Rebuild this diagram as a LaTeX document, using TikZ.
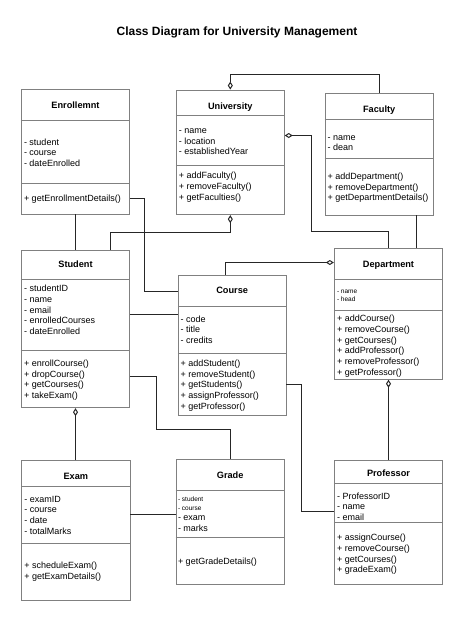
\documentclass[tikz,border=0pt]{standalone}
\usepackage{fontspec}
\setmainfont{Liberation Sans}
\usetikzlibrary{fit,arrows.meta}

\definecolor{boxline}{HTML}{808080}

\tikzset{
  classbox/.style={draw=boxline, line width=0.9pt, inner sep=0pt},
  divider/.style={draw=boxline, line width=0.9pt},
  classname/.style={font=\fontsize{9.2}{11}\selectfont\bfseries, inner sep=0pt, text height=6.6pt, text depth=0pt},
  member/.style={font=\fontsize{9}{11}\selectfont, anchor=west, inner sep=0pt, text height=6.4pt, text depth=0pt},
  tinymember/.style={member, font=\fontsize{6.5}{8}\selectfont, text height=4.6pt},
  link/.style={line width=1pt, draw=black!85},
  agg/.style={link, -{Diamond[open, length=8pt, width=5pt]}}
}

% one text line per member, 10.65pt apart
\newcommand{\members}[4]{%
  \foreach \m [count=\i from 0] in {#4}
    \node[member] (#1\i) at (#2, #3+10.65*\i) {\m};}

\begin{document}
\begin{tikzpicture}[x=1pt, y=-1pt]
  \fill[white] (0,0) rectangle (474,622);
  \useasboundingbox (0,0) rectangle (474,622);

  \node[font=\fontsize{12}{14}\selectfont\bfseries, inner sep=0pt, text height=8.6pt, text depth=0pt] (title) at (237,30.7) {Class Diagram for University Management};

  % Enrollemnt
  \node[classbox, fit={(21.3,89.3) (129.7,214)}] (enroll) {};
  \draw[divider] (enroll.west |- 0,120.7) -- (enroll.east |- 0,120.7);
  \draw[divider] (enroll.west |- 0,183) -- (enroll.east |- 0,183);
  \node[classname] (enroll-name) at (enroll.center |- 0,105) {Enrollemnt};
  \members{enroll-a}{23.8}{142}{- student, - course, - dateEnrolled}
  \members{enroll-m}{23.8}{198.3}{+ getEnrollmentDetails()}

  % University
  \node[classbox, fit={(176.3,90) (284.3,214.7)}] (univ) {};
  \draw[divider] (univ.west |- 0,115.7) -- (univ.east |- 0,115.7);
  \draw[divider] (univ.west |- 0,165.3) -- (univ.east |- 0,165.3);
  \node[classname] (univ-name) at (univ.center |- 0,105.7) {University};
  \members{univ-a}{178.6}{130.3}{- name, - location, - establishedYear}
  \members{univ-m}{178.6}{175.7}{+ addFaculty(), + removeFaculty(), + getFaculties()}

  % Faculty
  \node[classbox, fit={(325,93.3) (433.3,215)}] (fac) {};
  \draw[divider] (fac.west |- 0,119.3) -- (fac.east |- 0,119.3);
  \draw[divider] (fac.west |- 0,158.3) -- (fac.east |- 0,158.3);
  \node[classname] (fac-name) at (fac.center |- 0,109) {Faculty};
  \members{fac-a}{327.4}{137}{- name, - dean}
  \members{fac-m}{327.4}{176.3}{+ addDepartment(), + removeDepartment(), + getDepartmentDetails()}

  % Student
  \node[classbox, fit={(21.3,250) (129.7,407.7)}] (stud) {};
  \draw[divider] (stud.west |- 0,279.3) -- (stud.east |- 0,279.3);
  \draw[divider] (stud.west |- 0,350) -- (stud.east |- 0,350);
  \node[classname] (stud-name) at (stud.center |- 0,264.3) {Student};
  \members{stud-a}{24}{288.7}{- studentID, - name, - email, - enrolledCourses, - dateEnrolled}
  \members{stud-m}{24}{363.3}{+ enrollCourse(), + dropCourse(), + getCourses(), + takeExam()}

  % Course
  \node[classbox, fit={(178.3,275) (286,415.3)}] (course) {};
  \draw[divider] (course.west |- 0,306.3) -- (course.east |- 0,306.3);
  \draw[divider] (course.west |- 0,353) -- (course.east |- 0,353);
  \node[classname] (course-name) at (course.center |- 0,290.3) {Course};
  \members{course-a}{180.5}{319}{- code, - title, - credits}
  \members{course-m}{180.5}{363.3}{+ addStudent(), + removeStudent(), + getStudents(), + assignProfessor(), + getProfessor()}

  % Department
  \node[classbox, fit={(334.3,248.3) (442.7,379.3)}] (dept) {};
  \draw[divider] (dept.west |- 0,279.3) -- (dept.east |- 0,279.3);
  \draw[divider] (dept.west |- 0,310) -- (dept.east |- 0,310);
  \node[classname] (dept-name) at (dept.center |- 0,263.7) {Department};
  \node[tinymember] (dept-a0) at (336.8,291) {- name};
  \node[tinymember] (dept-a1) at (336.8,299.3) {- head};
  \members{dept-m}{336.8}{318.7}{+ addCourse(), + removeCourse(), + getCourses(), + addProfessor(), + removeProfessor(), + getProfessor()}

  % Exam
  \node[classbox, fit={(21.7,460.7) (130,600)}] (exam) {};
  \draw[divider] (exam.west |- 0,486.3) -- (exam.east |- 0,486.3);
  \draw[divider] (exam.west |- 0,543.3) -- (exam.east |- 0,543.3);
  \node[classname] (exam-name) at (exam.center |- 0,476) {Exam};
  \members{exam-a}{24.2}{499}{- examID, - course, - date, - totalMarks}
  \members{exam-m}{24.2}{565.7}{+ scheduleExam(), + getExamDetails()}

  % Grade
  \node[classbox, fit={(176,459.3) (284.3,584.3)}] (grade) {};
  \draw[divider] (grade.west |- 0,490) -- (grade.east |- 0,490);
  \draw[divider] (grade.west |- 0,537.3) -- (grade.east |- 0,537.3);
  \node[classname] (grade-name) at (grade.center |- 0,474.7) {Grade};
  \node[tinymember] (grade-a0) at (177.8,499) {- student};
  \node[tinymember] (grade-a1) at (177.8,507.7) {- course};
  \members{grade-a}{177.8}{517.3}{- exam, - marks}
  \members{grade-m}{177.8}{561.7}{+ getGradeDetails()}

  % Professor
  \node[classbox, fit={(334.3,460.7) (442.7,584.3)}] (prof) {};
  \draw[divider] (prof.west |- 0,483) -- (prof.east |- 0,483);
  \draw[divider] (prof.west |- 0,522.7) -- (prof.east |- 0,522.7);
  \node[classname] (prof-name) at (prof.center |- 0,472.7) {Professor};
  \members{prof-a}{337}{496}{- ProfessorID, - name, - email}
  \members{prof-m}{337}{537.7}{+ assignCourse(), + removeCourse(), + getCourses(), + gradeExam()}

  % connectors
  \draw[agg] (fac.north) -- ++(0,-18.6) -| (univ.north);
  \draw[agg] (dept.north) |- (311.5,231.5) |- (univ.east |- 0,135.5);
  \draw[link] (fac.south -| 416.5,0) -- (dept.north -| 416.5,0);
  \draw[agg] (stud.north -| 110.5,0) |- (univ.south |- 0,232.5) -- (univ.south);
  \draw[link] (enroll.south) -- (stud.north);
  \draw[link] (enroll.east |- 0,198.5) -| (144.5,291.5) -- (course.west |- 0,291.5);
  \draw[agg] (course.north -| 225.5,0) |- (dept.west |- 0,262.5);
  \draw[link] (stud.east |- 0,314.5) -- (course.west |- 0,314.5);
  \draw[link] (stud.east |- 0,376.5) -| (156.5,429.5) -| (grade.north);
  \draw[link] (course.east |- 0,384.5) -| (301.5,511.5) -- (prof.west |- 0,511.5);
  \draw[agg] (prof.north) -- (dept.south);
  \draw[agg] (exam.north -| stud.south) -- (stud.south);
  \draw[link] (exam.east |- 0,514.5) -- (grade.west |- 0,514.5);
\end{tikzpicture}
\end{document}
